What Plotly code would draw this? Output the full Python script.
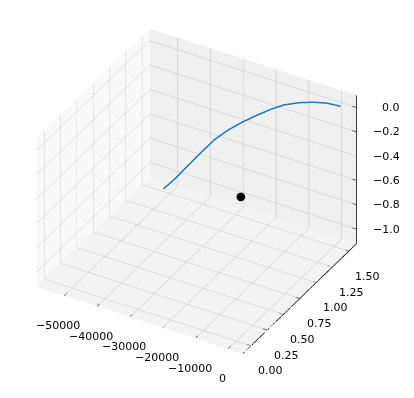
import plotly.graph_objects as go

# Curve data
curve_x = [-52000, -48300, -44700, -40500, -36300, -32100, -27900, -23700, -19500, -15300, -10600, -6400, -2200, 2000]
curve_y = [1.5, 1.5, 1.5, 1.5, 1.5, 1.5, 1.5, 1.5, 1.5, 1.5, 1.5, 1.5, 1.5, 1.5]
curve_z = [-1.10, -0.98, -0.85, -0.70, -0.555, -0.44, -0.34, -0.25, -0.165, -0.09, -0.03, 0.01, 0.04, 0.05]

# Single point
point_x = [0]
point_y = [0.07]
point_z = [0.03]

x_ticks = [-50000, -40000, -30000, -20000, -10000, 0]
y_ticks = [0.0, 0.25, 0.5, 0.75, 1.0, 1.25, 1.5]
z_ticks = [-1.0, -0.8, -0.6, -0.4, -0.2, 0.0]
x_labels = ["\u221250000", "\u221240000", "\u221230000", "\u221220000", "\u221210000", "0"]
y_labels = ["0.00", "0.25", "0.50", "0.75", "1.00", "1.25", "1.50"]
z_labels = ["\u22121.0", "\u22120.8", "\u22120.6", "\u22120.4", "\u22120.2", "0.0"]

xr = [-58500, 4500]
yr = [-0.12, 1.62]
zr = [-1.12, 0.1]

FONT = dict(family="DejaVu Sans", size=11, color="black")

fig = go.Figure()
fig.add_trace(go.Scatter3d(x=curve_x, y=curve_y, z=curve_z, mode="lines",
                           line=dict(color="#1f77b4", width=3), showlegend=False,
                           hoverinfo="skip"))
fig.add_trace(go.Scatter3d(x=point_x, y=point_y, z=point_z, mode="markers",
                           marker=dict(color="black", size=5), showlegend=False))

# axis lines (matplotlib-style positions)
ax_x = [xr[0], xr[1], None, xr[1], xr[1], None, xr[1], xr[1]]
ax_y = [yr[0], yr[0], None, yr[0], yr[1], None, yr[1], yr[1]]
ax_z = [zr[0], zr[0], None, zr[0], zr[0], None, zr[0], zr[1]]
# tick marks (short inward segments)
dxs = (xr[1] - xr[0]) * 0.02
dys = (yr[1] - yr[0]) * 0.02
for v in x_ticks:
    ax_x += [None, v, v]; ax_y += [None, yr[0], yr[0] + dys]; ax_z += [None, zr[0], zr[0]]
for v in y_ticks:
    ax_x += [None, xr[1], xr[1] - dxs]; ax_y += [None, v, v]; ax_z += [None, zr[0], zr[0]]
for v in z_ticks:
    ax_x += [None, xr[1], xr[1] - dxs]; ax_y += [None, yr[1], yr[1]]; ax_z += [None, v, v]
fig.add_trace(go.Scatter3d(x=ax_x, y=ax_y, z=ax_z, mode="lines",
                           line=dict(color="black", width=1.5), showlegend=False,
                           hoverinfo="skip", connectgaps=False))

annotations = []
for v, t in zip(x_ticks, x_labels):
    annotations.append(dict(x=v, y=yr[0], z=zr[0], text=t, showarrow=False,
                            xanchor="center", yanchor="middle", xshift=-6, yshift=-30, font=FONT))
for v, t in zip(y_ticks, y_labels):
    annotations.append(dict(x=xr[1], y=v, z=zr[0], text=t, showarrow=False,
                            xanchor="center", yanchor="middle", xshift=19, yshift=-25, font=FONT))
for v, t in zip(z_ticks, z_labels):
    annotations.append(dict(x=xr[1], y=yr[1], z=v, text=t, showarrow=False,
                            xanchor="right", yanchor="middle", xshift=45, yshift=0, font=FONT))

def ax(rng, ticks, bg):
    return dict(range=rng, tickvals=ticks, title=dict(text=""), showticklabels=False,
                showbackground=True, backgroundcolor=bg, gridcolor="#c4c4c4",
                gridwidth=1, showline=False, ticks="", zeroline=False,
                showspikes=False)

S = 1.276
fig.update_layout(
    width=414, height=398,
    margin=dict(l=0, r=0, t=0, b=0),
    paper_bgcolor="white",
    font=FONT,
    scene=dict(
        xaxis=ax(xr, x_ticks, "#f8f8f8"),
        yaxis=ax(yr, y_ticks, "#f0f0f0"),
        zaxis=ax(zr, z_ticks, "#f3f3f3"),
        aspectmode="manual",
        aspectratio=dict(x=1 * S, y=0.95 * S, z=0.75 * S),
        camera=dict(eye=dict(x=0.4145 * 1.9, y=-0.718 * 1.9, z=0.559 * 1.9),
                    center=dict(x=0, y=0, z=0),
                    projection=dict(type="orthographic")),
        annotations=annotations,
        domain=dict(x=[0, 0.95], y=[0.05, 0.99]),
    ),
)

fig.write_html("out.html")
